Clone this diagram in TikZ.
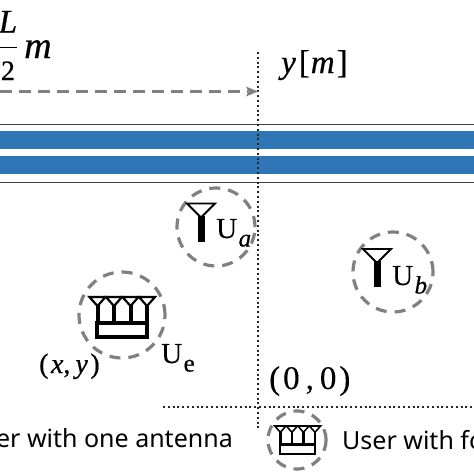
\documentclass[tikz,border=0pt]{standalone}
\usepackage{fontspec}
\setsansfont{Noto Sans}
\newfontfamily\ufont[FakeBold=0.2]{Liberation Serif}
\newfontfamily\mif[FakeBold=0.6]{Liberation Serif}
\definecolor{band}{HTML}{2E75B6}
\definecolor{ringgray}{HTML}{808080}
\newcommand{\fs}[1]{\fontsize{#1}{#1}\selectfont}
\newcommand{\userlab}[1]{{\ufont\fs{29}U}\kern1.5pt\raisebox{-8.5pt}{\fs{25}\mif #1}}
\tikzset{
  x=1pt,y=-1pt,
  axisline/.style={black!85,line width=2pt,dash pattern=on 2pt off 2.8pt},
  railline/.style={black!75,line width=0.9pt},
  bandfill/.style={fill=band,draw=none},
  ring/.style={circle,draw=ringgray,line width=3.2pt,dash pattern=on 11pt off 8pt,minimum size=#1,inner sep=0pt},
  lab/.style={inner sep=0pt,text=black},
  pics/oneant/.style={code={
    \draw[black,line width=1.8pt,line join=miter] (-14,0)--(14,0)--(0,14)--cycle;
    \fill[black] (-3.5,12) rectangle (3.5,38);
  }},
  pics/fourant/.style={code={
    \foreach \q in {-24.5,-8,8.5,25}{
      \draw[black,line width=#1*0.55pt] (\q-8,0)--(\q+8,0)--(\q,9)--cycle;
      \draw[black,line width=#1] (\q,7)--(\q,26);
    }
    \draw[black,line width=#1,fill=white] (-25,26) rectangle (25,40);
  }},
}
\begin{document}
\begin{tikzpicture}
\useasboundingbox (0,0) rectangle (474,474);
\clip (0,0) rectangle (474,474);
\fill[white] (0,0) rectangle (474,474);
% bands
\coordinate (railTL) at (0,124);\coordinate (railTR) at (474,124);
\coordinate (railBL) at (0,182);\coordinate (railBR) at (474,182);
\fill[bandfill] (0,131) rectangle (474,149);
\fill[bandfill] (0,155.5) rectangle (474,173.5);
\draw[railline] (railTL)--(railTR);
\draw[railline] (railBL)--(railBR);
% axes
\coordinate (yTop) at (258,52);\coordinate (yBot) at (258,430);
\coordinate (xLeft) at (163,407);\coordinate (xRight) at (474,407);
\draw[axisline] (yTop)--(yBot);
\draw[axisline] (xLeft)--(xRight);
% distance arrow
\coordinate (arrL) at (0,91.5);\coordinate (arrR) at (258,91.5);
\draw[ringgray,line width=2.2pt,dash pattern=on 12pt off 7pt] (arrL)--(248,91.5);
\fill[ringgray] (arrR)--(246,86.5)--(248.5,91.5)--(246,96.5)--cycle;
% labels top
\node[lab,font=\mif\fs{33}\itshape,anchor=base] (halfL) at (8,32.5) {L};
\draw[black,line width=1.3pt] (0,47.5)--(17,47.5);
\node[lab,font=\mif\fs{28},anchor=base] (two) at (8,80) {2};
\node[lab,font=\mif\fs{38}\itshape,anchor=base west] (unit) at (24,58) {m};
\node[lab,font=\mif\fs{33},anchor=base west] (ylab) at (281,73) {{\itshape y}\kern3pt[\kern1pt{\itshape m}\kern2pt]};
% rings
\node[ring=78pt] (ra) at (216,227) {};
\node[ring=80pt] (rb) at (393,272) {};
\node[ring=86pt] (re) at (122,315) {};
\node[ring=58pt] (rl) at (297,440) {};
% antennas
\pic at (201,203.5) {oneant};
\pic at (377,249) {oneant};
\pic at (122,297) {fourant=4pt};
\pic[scale=.7] at (297.5,426) {fourant=2.8pt};
% labels
\node[lab,anchor=base west] (ua) at (216,238) {\userlab{\itshape a}};
\node[lab,anchor=base west] (ub) at (392,285) {\userlab{\itshape b}};
\node[lab,anchor=base west] (ue) at (161,363) {\userlab{e}};
\node[lab,font=\mif\fs{28},anchor=base west] (xy) at (39,373) {(\kern2.5pt{\itshape x},\kern5pt{\itshape y}\kern2.5pt)};
\node[lab,font=\ufont\fs{33},anchor=base west] (origin) at (269,389) {(\kern3pt0\kern6pt,\kern6pt0\kern3pt)};
\node[lab,font=\sffamily\fs{25},anchor=base east] (l1) at (233,447) {User with one antenna};
\node[lab,font=\sffamily\fs{25},anchor=base west] (l2) at (342,449) {User with four antennas};
\end{tikzpicture}
\end{document}
